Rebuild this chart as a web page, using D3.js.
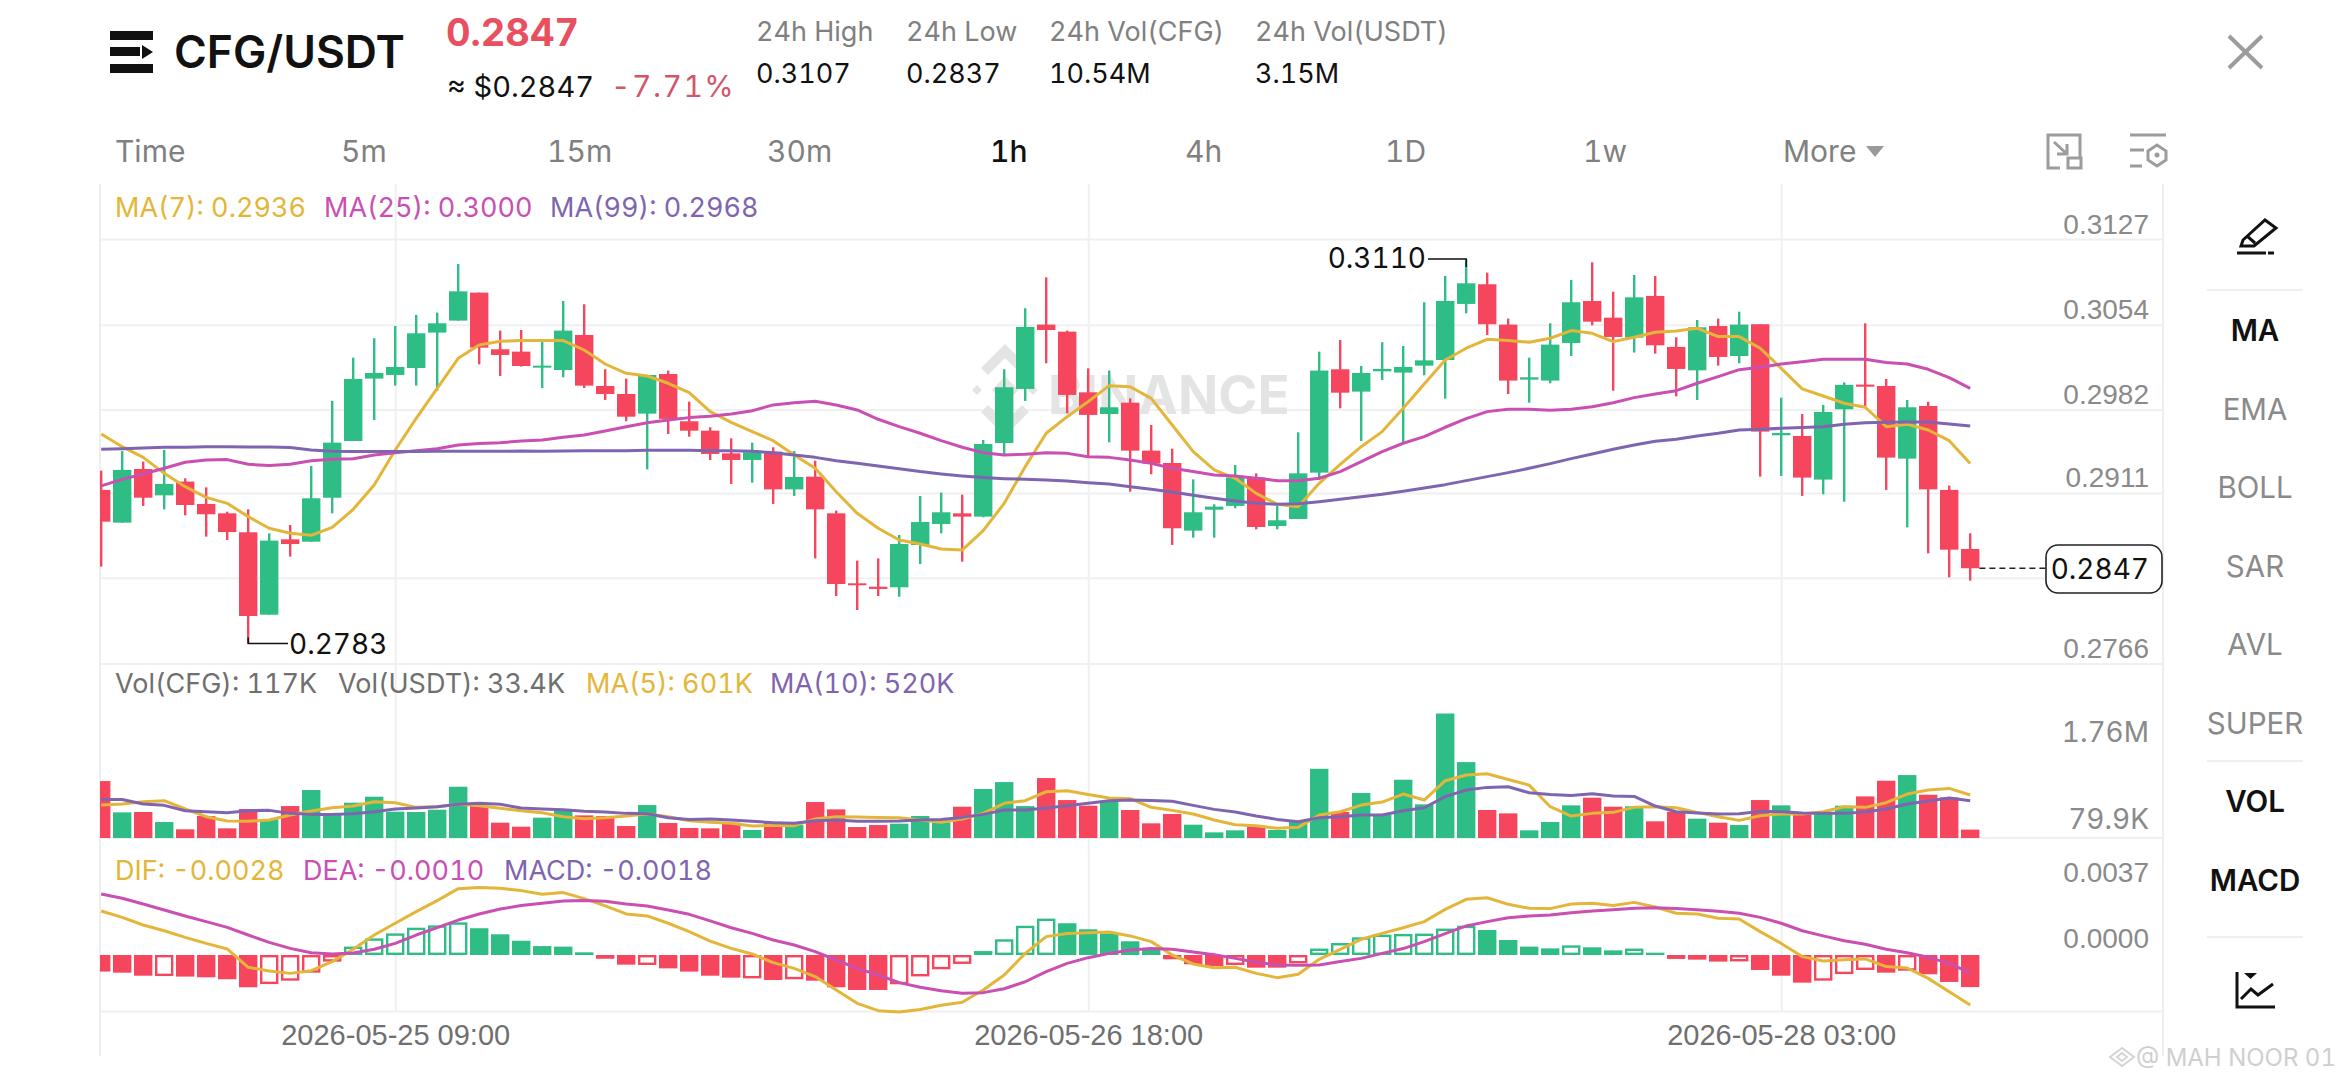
<!DOCTYPE html>
<html>
<head>
<meta charset="utf-8">
<script src="https://cdn.jsdelivr.net/npm/d3@7"></script>
<style>
  html, body { margin: 0; background: #fff; }
  svg { display: block; font-family: Inter, "Noto Sans", sans-serif; font-variant-numeric: tabular-nums; }
  .tick line { stroke: #f0f0f0; stroke-width: 2; }
  .tick text { fill: #8a8a8a; font-size: 28px; }
</style>
</head>
<body>
<svg width="2340" height="1080"></svg>
<script>
const highs = [0.293,0.29467,0.29377,0.29476,0.29235,0.29158,0.28951,0.28971,0.28767,0.28838,
  0.2934,0.29893,0.30261,0.30426,0.3053,0.30624,0.30644,0.31058,0.30814,0.30491,
  0.30496,0.30397,0.30743,0.30715,0.30162,0.30083,0.30114,0.30151,0.29887,0.29669,
  0.29575,0.29538,0.29499,0.29467,0.29385,0.2896,0.28535,0.28554,0.28753,0.29085,
  0.29113,0.29096,0.29561,0.30162,0.30681,0.30944,0.30491,0.3017,0.30151,0.29915,
  0.29688,0.29487,0.29226,0.29014,0.29348,0.29277,0.29,0.29626,0.30312,0.30411,
  0.3019,0.30392,0.3036,0.30732,0.30956,0.311,0.30984,0.30593,0.30261,0.30553,
  0.30922,0.31072,0.30822,0.30964,0.30956,0.30434,0.30581,0.30593,0.30652,0.30545,
  0.29921,0.29782,0.29859,0.30051,0.30553,0.3008,0.29901,0.29887,0.29173,0.28767];
const lows = [0.28484,0.28858,0.29,0.28971,0.2892,0.28739,0.2871,0.2783,0.28075,0.28569,
  0.28696,0.28937,0.29552,0.29731,0.30023,0.30023,0.2998,0.30576,0.30204,0.30105,
  0.30185,0.30003,0.30094,0.30003,0.29901,0.2972,0.29311,0.29612,0.29589,0.29391,
  0.29187,0.29198,0.29017,0.29085,0.28554,0.28234,0.28115,0.28234,0.28228,0.28506,
  0.28767,0.28526,0.28903,0.29442,0.29893,0.30213,0.29788,0.29413,0.29541,0.29121,
  0.29269,0.28668,0.2873,0.2873,0.2898,0.28801,0.28801,0.28889,0.29221,0.2983,
  0.29552,0.30071,0.29527,0.30111,0.29912,0.30638,0.30454,0.29952,0.29878,0.30043,
  0.30275,0.30536,0.2998,0.30304,0.30295,0.29932,0.29901,0.30193,0.30213,0.29249,
  0.29255,0.29085,0.29099,0.29036,0.29844,0.29136,0.28818,0.28597,0.28393,0.28365];
const opens = [0.29136,0.28858,0.29314,0.2909,0.29207,0.29017,0.28937,0.28776,0.28075,0.28716,
  0.28696,0.2907,0.29552,0.30083,0.30114,0.30173,0.30474,0.30576,0.30814,0.30332,
  0.30312,0.30176,0.30156,0.30454,0.3002,0.29952,0.29785,0.30122,0.2972,0.2964,
  0.29447,0.29391,0.29462,0.29141,0.29249,0.28937,0.28342,0.28313,0.28308,0.28668,
  0.28846,0.28937,0.28909,0.29535,0.29995,0.30542,0.30482,0.29966,0.29782,0.29878,
  0.2947,0.29365,0.2879,0.28968,0.29,0.29243,0.28829,0.28889,0.29283,0.30162,
  0.29972,0.30145,0.30134,0.30193,0.30241,0.30718,0.30885,0.30542,0.30074,0.30066,
  0.30386,0.30743,0.30601,0.30431,0.30786,0.30352,0.30153,0.3053,0.30275,0.30545,
  0.29601,0.29595,0.29224,0.29822,0.30032,0.3002,0.29402,0.2985,0.29136,0.28634];
const closes = [0.28866,0.29306,0.2907,0.29187,0.29008,0.28929,0.28778,0.28064,0.28705,0.28676,
  0.29065,0.29538,0.3008,0.30131,0.30182,0.30468,0.30553,0.30825,0.30346,0.30284,
  0.3019,0.30193,0.30491,0.30023,0.29952,0.29759,0.30114,0.2974,0.2964,0.29442,
  0.29391,0.29456,0.29141,0.29246,0.28971,0.28336,0.28325,0.28294,0.28676,0.28863,
  0.28946,0.28909,0.29527,0.30009,0.30522,0.30496,0.29944,0.29774,0.29839,0.2947,
  0.2936,0.2881,0.28946,0.28994,0.29243,0.28821,0.28878,0.29277,0.30151,0.29963,
  0.30131,0.30165,0.30182,0.30238,0.30743,0.30893,0.30545,0.30066,0.30094,0.30372,
  0.30732,0.30567,0.30437,0.30774,0.30366,0.30165,0.30519,0.30267,0.30542,0.29632,
  0.2962,0.29241,0.29799,0.30029,0.30014,0.29411,0.29839,0.29141,0.28628,0.2847];

const ma7 = [0.29612,0.29504,0.29413,0.29277,0.29164,0.29073,0.29022,0.28909,0.2881,0.28767,
  0.2875,0.28818,0.28971,0.29178,0.29476,0.29745,0.3,0.30255,0.30369,0.304,
  0.30406,0.30406,0.30406,0.30326,0.30207,0.30128,0.30105,0.30043,0.29963,0.29802,
  0.29711,0.29632,0.29555,0.29433,0.2932,0.29121,0.28937,0.2881,0.2871,0.28676,
  0.28634,0.28625,0.2879,0.29022,0.29334,0.29618,0.29759,0.29887,0.30023,0.30014,
  0.29915,0.29688,0.29462,0.29306,0.29235,0.29107,0.29014,0.28994,0.29192,0.29354,
  0.29504,0.29632,0.2983,0.30037,0.30241,0.30341,0.30417,0.30406,0.30392,0.30426,
  0.30491,0.30468,0.30397,0.30434,0.30477,0.30488,0.30511,0.3044,0.3044,0.30341,
  0.3017,0.29995,0.29935,0.29873,0.29839,0.29674,0.29694,0.29646,0.29555,0.2936];
const ma25 = [0.2917,0.29226,0.29272,0.2932,0.29371,0.29391,0.29394,0.29354,0.29343,0.29354,
  0.29385,0.29396,0.29402,0.29433,0.29453,0.2947,0.29487,0.29518,0.2953,0.29538,
  0.29552,0.29561,0.29584,0.29603,0.29637,0.29674,0.29708,0.29731,0.29751,0.29762,
  0.29782,0.2981,0.29859,0.29878,0.2989,0.29859,0.29816,0.29737,0.29674,0.29618,
  0.29555,0.29499,0.29453,0.29433,0.29439,0.29453,0.29447,0.29419,0.29413,0.29391,
  0.29362,0.2932,0.29292,0.29263,0.29255,0.29235,0.29215,0.29215,0.29235,0.29292,
  0.29377,0.29462,0.29533,0.29589,0.29669,0.29742,0.29802,0.29822,0.29822,0.29813,
  0.29822,0.29844,0.29878,0.29921,0.29952,0.2998,0.30043,0.301,0.30159,0.30179,
  0.30207,0.30227,0.30247,0.30247,0.30247,0.30219,0.30207,0.30162,0.30091,0.3];
const ma99 = [0.29482,0.29487,0.29493,0.29499,0.29499,0.29504,0.29504,0.29501,0.29501,0.29496,
  0.29476,0.29465,0.29462,0.29462,0.29462,0.29462,0.29465,0.29465,0.29465,0.29465,
  0.29467,0.29465,0.29467,0.2947,0.2947,0.2947,0.29473,0.29473,0.29473,0.2947,
  0.2947,0.29465,0.29453,0.29433,0.29413,0.29385,0.29362,0.2934,0.29317,0.29292,
  0.29272,0.29255,0.29241,0.29232,0.29226,0.29221,0.29212,0.29198,0.29187,0.29164,
  0.29141,0.29119,0.2909,0.29065,0.29042,0.29022,0.29014,0.29019,0.29036,0.29056,
  0.29079,0.29099,0.29124,0.29153,0.29181,0.29215,0.29249,0.29283,0.2932,0.2936,
  0.29402,0.29442,0.29482,0.29518,0.2955,0.29567,0.29595,0.29618,0.29646,0.29652,
  0.2966,0.29666,0.29674,0.29694,0.29708,0.29711,0.29714,0.29714,0.29697,0.2968];

// volumes in thousands of CFG
const volumes = [795,358,363,223,121,307,135,405,260,446,670,335,493,577,367,363,395,716,446,214,
  158,284,391,316,307,167,460,209,140,135,214,112,228,181,502,400,153,181,200,307,
  219,437,684,781,446,837,530,451,516,391,205,335,186,79,107,172,112,228,967,363,
  628,321,814,470,1739,1060,391,344,107,223,456,563,437,442,233,367,270,214,181,530,
  456,344,353,451,581,800,879,605,567,117];
const volMa5 = [460,474,507,521,405,298,237,233,251,321,377,423,446,507,493,428,437,470,451,414,
  381,353,298,270,284,307,335,298,242,219,205,167,177,172,265,298,293,288,284,251,
  219,265,344,484,521,646,660,609,558,549,428,386,335,251,186,172,135,149,321,367,
  460,502,614,530,800,879,897,818,739,437,307,344,358,428,437,423,358,298,246,312,
  335,335,367,437,428,493,614,670,693,601];
const volMa10 = [539,539,474,456,381,367,353,381,386,344,330,330,339,367,405,419,437,470,484,470,
  419,405,395,372,363,344,339,284,260,265,251,233,214,205,242,251,233,233,237,251,
  260,288,330,391,391,419,451,484,521,530,525,512,456,400,363,307,260,228,284,298,
  321,321,381,423,577,670,707,716,632,609,595,618,586,581,446,367,349,335,339,372,
  367,349,344,344,363,405,474,516,558,520];

const macdBars = [-0.00093,-0.00099,-0.00116,-0.00118,-0.00121,-0.00125,-0.00136,-0.00181,-0.00163,-0.00144,
  -0.00099,-0.00037,0.00047,0.00093,0.00121,0.00153,0.00166,0.00183,0.0015,0.00116,
  0.0008,0.0005,0.00047,0.00015,-0.00021,-0.00054,-0.00056,-0.00075,-0.00093,-0.00116,
  -0.00127,-0.00131,-0.0014,-0.00136,-0.00144,-0.00181,-0.00196,-0.00196,-0.00164,-0.0012,
  -0.0008,-0.0005,0.00022,0.00088,0.00164,0.00204,0.00178,0.00144,0.00121,0.00077,
  0.00036,-0.00024,-0.00052,-0.00062,-0.00056,-0.00071,-0.00071,-0.00047,0.00036,0.00067,
  0.00099,0.00114,0.00118,0.0012,0.00148,0.00164,0.0014,0.00084,0.00047,0.00037,
  0.00054,0.00043,0.00026,0.00036,0.00013,-0.00022,-0.00026,-0.00037,-0.00036,-0.00084,
  -0.00116,-0.00155,-0.00144,-0.00107,-0.00084,-0.00099,-0.00088,-0.00108,-0.00151,-0.0018];
const macdHollow = [3,8,9,10,11,12,13,14,15,16,17,26,31,33,38,39,40,41,43,44,45,54,57,58,59,60,61,62,63,64,65,70,73,76,78,82,83,84,86];
const dif = [0.00247,0.00211,0.00168,0.00136,0.00099,0.00065,0.00034,-0.00069,-0.0009,-0.00103,
  -0.00088,-0.00037,0.00032,0.00112,0.00178,0.00243,0.00305,0.00372,0.00378,0.00374,
  0.00361,0.0034,0.0035,0.00316,0.00275,0.0023,0.00219,0.00178,0.00131,0.00078,
  0.00037,0.00006,-0.00043,-0.00075,-0.00121,-0.00196,-0.00271,-0.00312,-0.0032,-0.00305,
  -0.00282,-0.00265,-0.00196,-0.00112,0.00009,0.00103,0.00121,0.00125,0.00129,0.00107,
  0.00075,0,-0.0005,-0.00071,-0.00069,-0.00103,-0.00127,-0.00108,-0.00024,0.00032,
  0.00088,0.00121,0.00153,0.00187,0.00256,0.00312,0.00321,0.00284,0.00262,0.0026,
  0.00286,0.0029,0.00278,0.00295,0.00269,0.00234,0.0023,0.00206,0.00202,0.00131,
  0.00065,-0.00009,-0.00034,-0.00026,-0.00022,-0.00065,-0.00073,-0.00131,-0.00206,-0.0028];
const dea = [0.00342,0.00318,0.00286,0.00252,0.00219,0.00187,0.00155,0.00112,0.00071,0.00037,
  0.00013,0.00006,0.00011,0.00032,0.00065,0.00112,0.00153,0.00196,0.0023,0.00258,
  0.00277,0.0029,0.00303,0.00305,0.00301,0.00286,0.00275,0.00252,0.00228,0.00191,
  0.00153,0.00121,0.00084,0.00056,0.00019,-0.00028,-0.00075,-0.00112,-0.00155,-0.00181,
  -0.002,-0.00215,-0.00211,-0.00189,-0.0015,-0.00093,-0.00047,-0.00015,0.00009,0.00028,
  0.00037,0.00032,0.00017,0.00002,-0.00019,-0.00041,-0.00056,-0.00058,-0.00056,-0.00037,
  -0.00019,0.00009,0.00036,0.00075,0.0012,0.00163,0.00187,0.00209,0.00219,0.00224,
  0.00237,0.00247,0.00254,0.00262,0.00265,0.0026,0.00254,0.00245,0.00234,0.00211,
  0.00178,0.00136,0.00107,0.0008,0.0006,0.00032,0.00013,-0.00013,-0.00047,-0.001];

const priceTicks = [0.3127, 0.3054, 0.2982, 0.2911, 0.2839, 0.2766];
const hiddenPriceTick = 0.2839; // sits under the last-price pill
const macdTicks = [0.0037, 0];
const volTickLabels = ["1.76M", "79.9K"];
const dateTicks = [14, 47, 80];
const dateLabels = ["2026-05-25 09:00", "2026-05-26 18:00", "2026-05-28 03:00"];
const tabs = ["Time", "5m", "15m", "30m", "1h", "4h", "1D", "1w", "More"];
const sideItems = ["MA", "EMA", "BOLL", "SAR", "AVL", "SUPER", "VOL", "MACD"];
const sideActive = ["MA", "VOL", "MACD"];

const green = "#2ebd85", red = "#f6465d";
const yellow = "#e3b63a", magenta = "#c94fb2", purple = "#7f65b0";
const plotLeft = 100, plotRight = 2163, plotTop = 184;

const svg = d3.select("svg");

const x = d3.scaleLinear().domain([0, 89]).range([101.2, 1970.2]);
const yPrice = d3.scaleLinear().domain([0.2766, 0.3127]).range([663.5, 239]);
const yVol = d3.scaleLinear().domain([0, 1760]).range([838, 712]);
const yMacd = d3.scaleLinear().domain([0, 0.0037]).range([955, 889]);

const bodyW = 18.4;
const idx = d3.range(90);
const fmt4 = d3.format(".4f");

svg.append("defs").append("clipPath").attr("id", "plot")
  .append("rect").attr("x", plotLeft).attr("y", plotTop).attr("width", plotRight - plotLeft).attr("height", 880);

// helper for plain text
function label(sel, str, px, py, size, fill, opts = {}) {
  return sel.append("text").attr("x", px).attr("y", py)
    .attr("font-size", size).attr("fill", fill)
    .attr("font-weight", opts.weight || 400)
    .attr("text-anchor", opts.anchor || "start")
    .attr("letter-spacing", opts.spacing || 0)
    .text(str);
}

// ---- grid and axes
const priceAxis = d3.axisRight(yPrice).tickValues(priceTicks)
  .tickFormat((d) => (d === hiddenPriceTick ? "" : fmt4(d)))
  .tickSizeInner(-(plotRight - plotLeft)).tickSizeOuter(0);
const gPrice = svg.append("g").attr("transform", `translate(${plotRight},0)`).call(priceAxis);
gPrice.select(".domain").remove();
gPrice.selectAll("text").attr("x", -14).attr("dy", -6).attr("text-anchor", "end");

const macdAxis = d3.axisRight(yMacd).tickValues(macdTicks).tickFormat(fmt4).tickSize(0);
const gMacd = svg.append("g").attr("transform", `translate(${plotRight},0)`).call(macdAxis);
gMacd.select(".domain").remove();
gMacd.selectAll("text").attr("x", -14).attr("dy", -8).attr("text-anchor", "end");

const dateAxis = d3.axisBottom(x).tickValues(dateTicks).tickFormat((d, i) => dateLabels[i])
  .tickSizeInner(-(1011.5 - plotTop)).tickSizeOuter(0);
const gDate = svg.append("g").attr("transform", "translate(0,1011.5)").call(dateAxis);
gDate.select(".domain").remove();
gDate.selectAll("text").attr("y", 33).attr("dy", 0).style("fill", "#6f6f6f").style("font-size", "29px");

[838, 1011.5].forEach((yy) => {
  svg.append("line").attr("x1", plotLeft).attr("x2", plotRight).attr("y1", yy).attr("y2", yy)
    .attr("stroke", "#f0f0f0").attr("stroke-width", 2);
});
[plotLeft, plotRight].forEach((xx) => {
  svg.append("line").attr("x1", xx).attr("x2", xx).attr("y1", plotTop).attr("y2", 1056)
    .attr("stroke", "#eeeeee").attr("stroke-width", 2);
});
label(svg, volTickLabels[0], 2149, 742, 28, "#8a8a8a", { anchor: "end" });
label(svg, volTickLabels[1], 2149, 829, 28, "#8a8a8a", { anchor: "end" });

// ---- Binance watermark behind the candles
const mark = svg.append("g").attr("fill", "#e4e4e4");
[[1005, 390, 19], [977, 390, 7], [1033, 390, 7]].forEach(([cx, cy, s]) => {
  mark.append("rect").attr("x", -s / 2).attr("y", -s / 2).attr("width", s).attr("height", s)
    .attr("transform", `translate(${cx},${cy}) rotate(45)`);
});
mark.append("path").attr("d", "M1005 344l24 24-7 7-17-17-17 17-7-7zM1005 436l24-24-7-7-17 17-17-17-7 7z");
label(mark, "BINANCE", 1048, 414, 53, "#e4e4e4", { weight: 700 });

// ---- candles
const chart = svg.append("g").attr("clip-path", "url(#plot)");
const isUp = (i) => closes[i] >= opens[i];
const candles = chart.selectAll("g.candle").data(idx).enter().append("g").attr("class", "candle");
candles.append("line")
  .attr("x1", (i) => x(i)).attr("x2", (i) => x(i))
  .attr("y1", (i) => yPrice(highs[i])).attr("y2", (i) => yPrice(lows[i]))
  .attr("stroke", (i) => (isUp(i) ? green : red)).attr("stroke-width", 2.4);
candles.append("rect")
  .attr("x", (i) => x(i) - bodyW / 2).attr("width", bodyW)
  .attr("y", (i) => yPrice(Math.max(opens[i], closes[i])))
  .attr("height", (i) => Math.abs(yPrice(opens[i]) - yPrice(closes[i])))
  .attr("fill", (i) => (isUp(i) ? green : red));

// ---- volume bars
chart.selectAll("rect.vol").data(idx).enter().append("rect").attr("class", "vol")
  .attr("x", (i) => x(i) - bodyW / 2).attr("width", bodyW)
  .attr("y", (i) => yVol(volumes[i]))
  .attr("height", (i) => yVol(0) - yVol(volumes[i]))
  .attr("fill", (i) => (isUp(i) ? green : red));

// ---- MACD bars
chart.selectAll("rect.macd").data(idx).enter().append("rect").attr("class", "macd")
  .each(function (i) {
    const hollow = macdHollow.includes(i);
    const c = macdBars[i] >= 0 ? green : red;
    const top = yMacd(Math.max(macdBars[i], 0)), bottom = yMacd(Math.min(macdBars[i], 0));
    const inset = hollow ? 1.2 : 0;
    d3.select(this)
      .attr("x", x(i) - bodyW / 2 + inset).attr("width", bodyW - inset * 2)
      .attr("y", top + inset).attr("height", Math.max(bottom - top - inset * 2, 0.5))
      .attr("fill", hollow ? "#fff" : c)
      .attr("stroke", hollow ? c : "none").attr("stroke-width", hollow ? 2.4 : 0);
  });

// ---- lines
function drawLine(values, y, color) {
  const line = d3.line().x((d, i) => x(i)).y((d) => y(d));
  chart.append("path").datum(values).attr("d", line)
    .attr("fill", "none").attr("stroke", color).attr("stroke-width", 3).attr("stroke-linejoin", "round");
}
drawLine(ma7, yPrice, yellow);
drawLine(ma25, yPrice, magenta);
drawLine(ma99, yPrice, purple);
drawLine(volMa5, yVol, yellow);
drawLine(volMa10, yVol, purple);
drawLine(dif, yMacd, yellow);
drawLine(dea, yMacd, magenta);

// ---- high/low callouts
const lowIdx = d3.minIndex(lows), highIdx = d3.maxIndex(highs);
svg.append("path").attr("fill", "none").attr("stroke", "#111").attr("stroke-width", 1.5)
  .attr("d", `M${x(lowIdx)} ${yPrice(lows[lowIdx]) - 6}V${yPrice(lows[lowIdx])}H288`);
label(svg, fmt4(lows[lowIdx]), 289, 654, 28, "#111");
svg.append("path").attr("fill", "none").attr("stroke", "#111").attr("stroke-width", 1.5)
  .attr("d", `M${x(highIdx)} ${yPrice(highs[highIdx]) + 8}V${yPrice(highs[highIdx])}H1428`);
label(svg, fmt4(highs[highIdx]), 1426, 268, 28, "#111", { anchor: "end" });

// ---- last price
const lastY = yPrice(closes[89]);
svg.append("line").attr("x1", x(89) + bodyW / 2).attr("x2", 2046).attr("y1", lastY).attr("y2", lastY)
  .attr("stroke", "#222").attr("stroke-width", 1.6).attr("stroke-dasharray", "6 4");
svg.append("rect").attr("x", 2046).attr("y", 545).attr("width", 116).attr("height", 48).attr("rx", 12)
  .attr("fill", "#fff").attr("stroke", "#222").attr("stroke-width", 1.6);
label(svg, fmt4(closes[89]), 2149, 579, 28, "#111", { anchor: "end" });

// ---- legends
const legendY = [217, 693, 880];
[["MA(7): 0.2936", 115, yellow], ["MA(25): 0.3000", 324, magenta], ["MA(99): 0.2968", 550, purple]]
  .forEach(([t, px, c]) => label(svg, t, px, legendY[0], 27, c));
[["Vol(CFG): 117K", 115, "#6f6f6f"], ["Vol(USDT): 33.4K", 338, "#6f6f6f"], ["MA(5): 601K", 586, yellow], ["MA(10): 520K", 770, purple]]
  .forEach(([t, px, c]) => label(svg, t, px, legendY[1], 27, c));
[["DIF: -0.0028", 115, yellow], ["DEA: -0.0010", 303, magenta], ["MACD: -0.0018", 504, purple]]
  .forEach(([t, px, c]) => label(svg, t, px, legendY[2], 27, c));

// ---- header
const logo = svg.append("g").attr("fill", "#111");
logo.append("path").attr("d", "M110 31h43v9h-43zM110 64h43v9h-43zM110 47h30v9h-30zM142 45l11 7-11 7z");
label(svg, "CFG/USDT", 174, 68, 44.5, "#111", { weight: 600 });
label(svg, "0.2847", 446, 46, 38, "#e8505f", { weight: 700 });
label(svg, "≈ $0.2847", 447, 97, 29, "#111");
label(svg, "-7.71%", 611, 97, 30, "#d2566b", { spacing: 1.5 });
[["24h High", "0.3107", 756], ["24h Low", "0.2837", 906], ["24h Vol(CFG)", "10.54M", 1049], ["24h Vol(USDT)", "3.15M", 1255]]
  .forEach(([a, b, px]) => {
    label(svg, a, px, 41, 27, "#808080");
    label(svg, b, px, 83, 27, "#111");
  });
const tabX = [115, 341, 547, 767, 990, 1185, 1385, 1583, 1783];
tabs.forEach((t, i) => {
  label(svg, t, tabX[i], 162, 30, t === "1h" ? "#111" : "#808080", { weight: t === "1h" ? 500 : 400 });
});
svg.append("path").attr("d", "M1866 146h18l-9 11z").attr("fill", "#9a9a9a");

const iconStroke = "#9c9c9c";
svg.append("path").attr("fill", "none").attr("stroke", iconStroke).attr("stroke-width", 3)
  .attr("d", "M2060 168h-12v-33h32v22M2048 168M2054 142l13 12M2067 144v10h-10M2068 158h13v10h-13z");
svg.append("path").attr("fill", "none").attr("stroke", iconStroke).attr("stroke-width", 3)
  .attr("d", "M2130 135h36M2130 150h14M2130 166h12M2148 151l9-6 9 6v9l-9 6-9-6z");
svg.append("circle").attr("cx", 2157).attr("cy", 155).attr("r", 2.5).attr("fill", iconStroke);
svg.append("path").attr("stroke", "#9c9c9c").attr("stroke-width", 4)
  .attr("d", "M2229 36L2262 68M2262 36L2229 68");

// ---- right side menu
const sideY = d3.scalePoint().domain(sideItems).range([331, 881]);
sideItems.forEach((s) => {
  const on = sideActive.includes(s);
  label(svg, s, 2255, sideY(s) + 10, 29.5, on ? "#111" : "#8a8a8a", { anchor: "middle", weight: on ? 600 : 400 });
});
[290, 761, 937].forEach((yy) => {
  svg.append("line").attr("x1", 2207).attr("x2", 2303).attr("y1", yy).attr("y2", yy)
    .attr("stroke", "#efefef").attr("stroke-width", 2);
});
svg.append("path").attr("fill", "none").attr("stroke", "#111").attr("stroke-width", 3)
  .attr("d", "M2243 240l22-20 11 8-22 18h-13zM2247 236l8 7M2237 253h29M2268 253h6");
svg.append("path").attr("fill", "none").attr("stroke", "#111").attr("stroke-width", 3)
  .attr("d", "M2237 972v35h38M2241 999l10-10 7 6 15-11");
svg.append("path").attr("d", "M2244 973h13l-6.5 6z").attr("fill", "#111");

// ---- corner watermark
svg.append("path").attr("fill", "none").attr("stroke", "#d4d4d4").attr("stroke-width", 2)
  .attr("d", "M2110 1057l12-9 12 9-12 9zM2117 1057l5-4 5 4-5 4z");
label(svg, "@ MAH NOOR 01", 2136, 1066, 24, "#cfcfcf");
</script>
</body>
</html>
